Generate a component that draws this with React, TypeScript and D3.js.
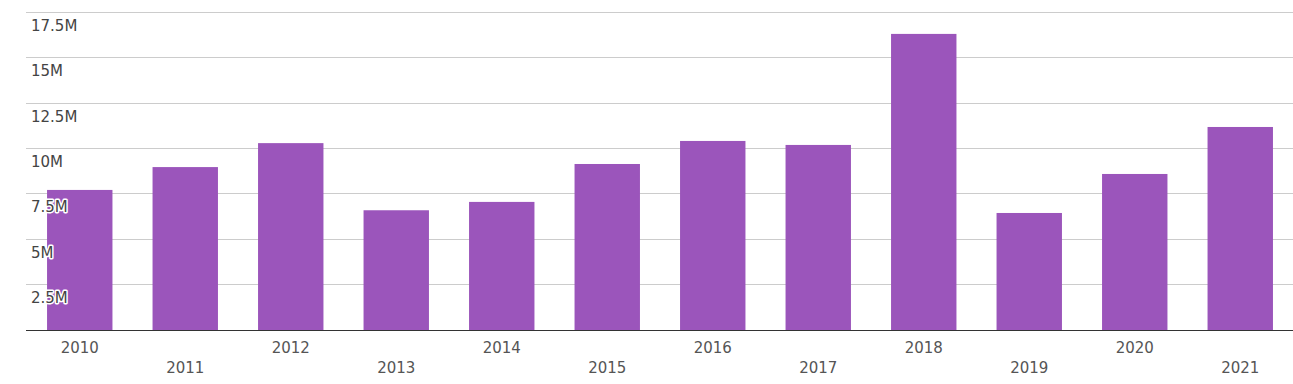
import React, { useEffect, useRef } from "react";
import * as d3 from "d3";

const years = ["2010","2011","2012","2013","2014","2015","2016","2017","2018","2019","2020","2021"];
const values = [7.72, 8.98, 10.3, 6.6, 7.06, 9.15, 10.42, 10.2, 16.32, 6.45, 8.6, 11.19];
const yTicks = [2.5, 5, 7.5, 10, 12.5, 15, 17.5];
const yTickLabels = ["2.5M", "5M", "7.5M", "10M", "12.5M", "15M", "17.5M"];

const W = 1293, H = 384;
const M = { left: 26, right: 0, top: 12.5, bottom: 54 };

export default function App() {
  const ref = useRef<SVGSVGElement>(null);
  useEffect(() => {
    const svg = d3.select(ref.current);
    svg.selectAll("*").remove();
    const x = d3.scaleBand<string>().domain(years).range([M.left + 1, W - M.right]).paddingInner(0.38).paddingOuter(0.19);
    const y = d3.scaleLinear().domain([0, 17.5]).range([H - M.bottom, M.top]);
    const font = "DejaVu Sans, sans-serif";

    svg.append("g").selectAll("line").data(yTicks).join("line")
      .attr("x1", M.left).attr("x2", W - M.right)
      .attr("y1", d => Math.floor(y(d)) + 0.5).attr("y2", d => Math.floor(y(d)) + 0.5)
      .attr("stroke", "#cccccc").attr("stroke-width", 1);

    svg.append("g").selectAll("rect").data(values).join("rect")
      .attr("x", (_, i) => x(years[i])!)
      .attr("width", x.bandwidth())
      .attr("y", d => y(d))
      .attr("height", d => y(0) - y(d))
      .attr("fill", "#9b55bb");

    svg.append("line")
      .attr("x1", M.left).attr("x2", W - M.right)
      .attr("y1", y(0) + 0.5).attr("y2", y(0) + 0.5)
      .attr("stroke", "#333").attr("stroke-width", 1);

    svg.append("g").selectAll("text").data(yTicks).join("text")
      .attr("x", 31).attr("y", d => y(d) + 18.5)
      .text((_, i) => yTickLabels[i])
      .attr("font-family", font).attr("font-size", 15)
      .attr("fill", "#444")
      .attr("stroke", "#fff").attr("stroke-width", 3).attr("paint-order", "stroke")
      .attr("stroke-linejoin", "round");

    svg.append("g").selectAll("text").data(years).join("text")
      .attr("x", d => x(d)! + x.bandwidth() / 2)
      .attr("y", (_, i) => (i % 2 === 0 ? 353 : 373))
      .attr("text-anchor", "middle")
      .text(d => d)
      .attr("font-family", font).attr("font-size", 15)
      .attr("fill", "#555");
  }, []);
  return (
    <svg ref={ref} width={W} height={H} style={{ position: "absolute", left: 0, top: 0, background: "#fff" }} />
  );
}
